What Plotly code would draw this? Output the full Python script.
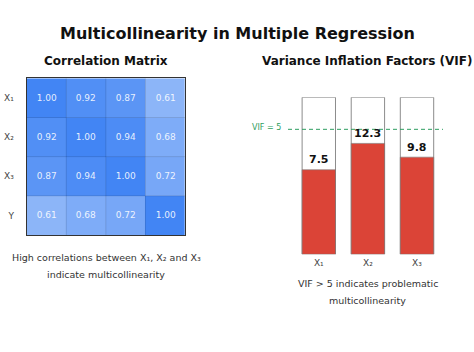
import plotly.graph_objects as go

# ---------------- data ----------------
corr_labels = ["X₁", "X₂", "X₃", "Y"]
corr_values = [
    [1.00, 0.92, 0.87, 0.61],
    [0.92, 1.00, 0.94, 0.68],
    [0.87, 0.94, 1.00, 0.72],
    [0.61, 0.68, 0.72, 1.00],
]
vif_labels = ["X₁", "X₂", "X₃"]
vif_values = [7.5, 12.3, 9.8]
vif_threshold_label = "VIF = 5"

# --------------- layout helpers ---------------
W, H = 474, 352
FONT = "DejaVu Sans"


def px(x):
    return x / W


def py(y):
    return 1 - y / H


# bar-panel scale (schematic axis)
AX_FLOOR, AX_CEIL = -7.9, 20.7

fig = go.Figure()

# heatmap
cell_text = [[f"{v:.2f}" for v in row] for row in corr_values]
fig.add_trace(go.Heatmap(
    z=corr_values, x=corr_labels, y=corr_labels,
    text=cell_text, texttemplate="%{text}",
    textfont=dict(family=FONT, size=9, color="rgba(255,255,255,0.88)"),
    colorscale=[[0, "#ffffff"], [1, "#4285f4"]], zmin=0, zmax=1,
    showscale=False, xaxis="x", yaxis="y", hoverinfo="skip",
))

# VIF background boxes
fig.add_trace(go.Bar(
    x=vif_labels, y=[AX_CEIL - AX_FLOOR] * len(vif_labels), base=AX_FLOOR,
    marker=dict(color="white", line=dict(color="#8c8c8c", width=1)),
    width=0.68, xaxis="x2", yaxis="y2", hoverinfo="skip", showlegend=False,
))
# VIF bars
fig.add_trace(go.Bar(
    x=vif_labels, y=[v - AX_FLOOR for v in vif_values], base=AX_FLOOR,
    marker=dict(color="#db4437", line=dict(color="rgba(120,120,120,0.6)", width=1)),
    width=0.68, xaxis="x2", yaxis="y2", showlegend=False,
))

shapes = []
# heatmap cell separators
for k in range(1, len(corr_labels)):
    shapes.append(dict(type="line", xref="x", yref="y domain", x0=k - 0.5, x1=k - 0.5,
                       y0=0, y1=1, line=dict(color="rgba(0,0,0,0.12)", width=1)))
    shapes.append(dict(type="line", xref="x domain", yref="y", y0=k - 0.5, y1=k - 0.5,
                       x0=0, x1=1, line=dict(color="rgba(0,0,0,0.12)", width=1)))
# threshold line
shapes.append(dict(type="line", xref="paper", yref="y2 domain",
                   x0=px(288), x1=px(443), y0=0.796, y1=0.796,
                   line=dict(color="#2e9e60", width=1, dash="4px,3px")))

annotations = [
    dict(text="<b>Multicollinearity in Multiple Regression</b>", x=px(237), y=py(33),
         font=dict(family=FONT, size=16, color="#111")),
    dict(text="<b>Correlation Matrix</b>", x=px(106), y=py(61),
         font=dict(family=FONT, size=12, color="#111")),
    dict(text="<b>Variance Inflation Factors (VIF)</b>", x=px(367), y=py(61),
         font=dict(family=FONT, size=12, color="#111")),
    dict(text="High correlations between X₁, X₂ and X₃", x=px(106), y=py(257),
         font=dict(family=FONT, size=9.5, color="#333")),
    dict(text="indicate multicollinearity", x=px(106), y=py(274),
         font=dict(family=FONT, size=9.5, color="#333")),
    dict(text="VIF > 5 indicates problematic", x=px(367.5), y=py(283),
         font=dict(family=FONT, size=9.5, color="#333")),
    dict(text="multicollinearity", x=px(367.5), y=py(300),
         font=dict(family=FONT, size=9.5, color="#333")),
    dict(text=vif_threshold_label, x=px(283), y=py(127), xanchor="right",
         font=dict(family=FONT, size=8, color="#2e9e60")),
]
# value labels above bars
for lab, v in zip(vif_labels, vif_values):
    annotations.append(dict(text=f"<b>{v:.1f}</b>", x=lab, y=v, xref="x2", yref="y2",
                            yshift=10, font=dict(family=FONT, size=11, color="#111")))

for a in annotations:
    a.setdefault("xref", "paper")
    a.setdefault("yref", "paper")
    a.setdefault("showarrow", False)
    a.setdefault("xanchor", "center")
    a.setdefault("yanchor", "middle")

fig.update_layout(
    width=W, height=H, margin=dict(l=0, r=0, t=0, b=0),
    paper_bgcolor="white", plot_bgcolor="white",
    barmode="overlay", showlegend=False,
    font=dict(family=FONT),
    xaxis=dict(domain=[px(26.7), px(185)], showticklabels=False, ticks="",
               showgrid=False, zeroline=False, showline=True, mirror=True,
               linecolor="#333", linewidth=1, anchor="y"),
    yaxis=dict(domain=[py(235), py(78.3)], autorange="reversed", showgrid=False,
               zeroline=False, showline=True, mirror=True, linecolor="#333",
               linewidth=1, ticks="", ticklabelstandoff=10,
               tickfont=dict(family=FONT, size=9, color="#444"), anchor="x"),
    xaxis2=dict(domain=[px(294.25), px(441.55)], range=[-0.5, 2.5], showgrid=False,
                zeroline=False, showline=False, ticks="", anchor="y2",
                tickfont=dict(family=FONT, size=9, color="#444"), ticklabelstandoff=2),
    yaxis2=dict(domain=[py(254.3), py(97.3)], range=[AX_FLOOR, AX_CEIL], visible=False,
                anchor="x2"),
    shapes=shapes, annotations=annotations,
)

fig.write_html("out.html")
